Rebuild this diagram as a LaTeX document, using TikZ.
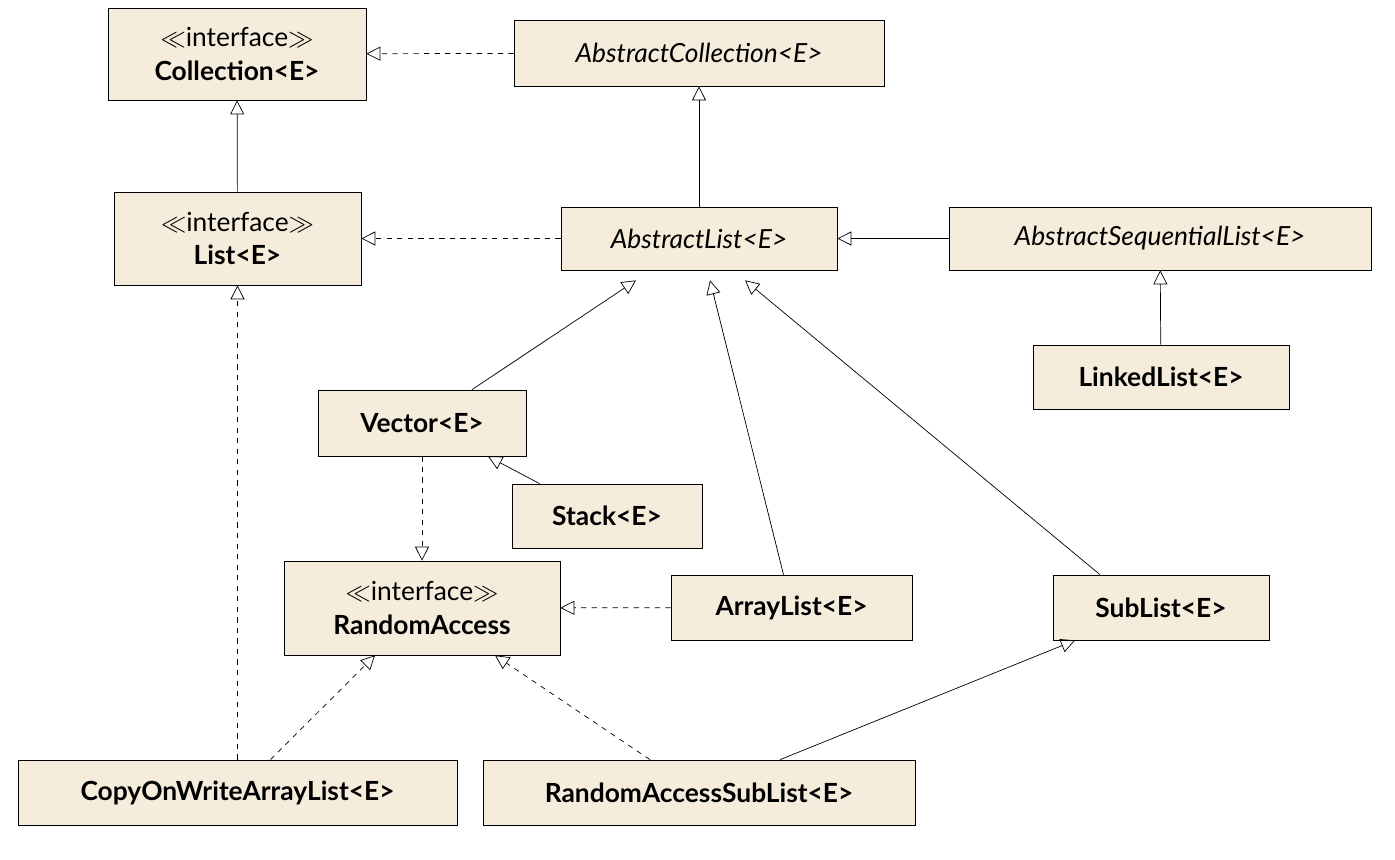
\documentclass[tikz,border=0pt]{standalone}
\usepackage{fontspec}
\setmainfont{Lato}
\usetikzlibrary{arrows.meta}
\definecolor{boxfill}{HTML}{F5ECDC}
\tikzset{
  cls/.style={draw, fill=boxfill, align=center, inner sep=2pt,
    font=\fontsize{15}{19}\selectfont},
  ext/.style={-{Triangle[open, length=8pt, width=8pt]}},
  impl/.style={ext, dashed}
}
\newcommand{\iface}{$\ll$interface$\gg$}
\begin{document}
\begin{tikzpicture}
\useasboundingbox (0,0) rectangle (27.9,-17.2);

\node[cls, minimum width=5.16cm, minimum height=1.84cm] (coll) at (4.74,-1.08) {\iface\\\textbf{Collection<E>}};
\node[cls, minimum width=7.4cm, minimum height=1.32cm] (acoll) at (13.98,-1.06) {\textit{AbstractCollection<E>}};
\node[cls, minimum width=4.94cm, minimum height=1.86cm] (list) at (4.75,-4.77) {\iface\\\textbf{List<E>}};
\node[cls, minimum width=5.52cm, minimum height=1.26cm] (alist) at (13.98,-4.77) {\textit{AbstractList<E>}};
\node[cls, minimum width=8.44cm, minimum height=1.26cm] (aslist) at (23.2,-4.77) {\textit{AbstractSequentialList<E>}};
\node[cls, minimum width=5.12cm, minimum height=1.28cm] (linked) at (23.22,-7.54) {\textbf{LinkedList<E>}};
\node[cls, minimum width=4.16cm, minimum height=1.32cm] (vector) at (8.44,-8.46) {\textbf{Vector<E>}};
\node[cls, minimum width=3.8cm, minimum height=1.28cm] (stack) at (12.14,-10.32) {\textbf{Stack<E>}};
\node[cls, minimum width=5.52cm, minimum height=1.88cm] (rand) at (8.44,-12.16) {\iface\\\textbf{RandomAccess}};
\node[cls, minimum width=4.82cm, minimum height=1.3cm] (array) at (15.83,-12.15) {\textbf{ArrayList<E>}};
\node[cls, minimum width=4.32cm, minimum height=1.3cm] (sub) at (23.22,-12.15) {\textbf{SubList<E>}};
\node[cls, minimum width=8.78cm, minimum height=1.3cm] (cow) at (4.75,-15.85) {\textbf{CopyOnWriteArrayList<E>}};
\node[cls, minimum width=8.64cm, minimum height=1.3cm] (rasub) at (13.98,-15.85) {\textbf{RandomAccessSubList<E>}};

% generalisation
\draw[ext] (list) -- (coll);
\draw[ext] (alist) -- (acoll);
\draw[ext] (aslist) -- (alist);
\draw[ext] (linked) -- (aslist);
\draw[ext] ([xshift=1cm]vector.north) -- ([xshift=-1.26cm, yshift=-0.2cm]alist.south);
\draw[ext] ([xshift=-0.16cm]array.north) -- ([xshift=0.22cm, yshift=-0.2cm]alist.south);
\draw[ext] ([xshift=-1.22cm]sub.north) -- ([xshift=0.92cm, yshift=-0.2cm]alist.south);
\draw[ext] ([xshift=0.56cm]stack.north west) -- ([xshift=1.32cm]vector.south);
\draw[ext] ([xshift=1.62cm]rasub.north) -- ([xshift=-1.72cm]sub.south);

% realisation
\draw[impl] (acoll) -- (coll);
\draw[impl] (alist) -- (list);
\draw[impl] (vector) -- (rand);
\draw[impl] (array) -- (rand);
\draw[impl] (cow) -- (list);
\draw[impl] ([xshift=0.66cm]cow.north) -- ([xshift=-0.94cm]rand.south);
\draw[impl] ([xshift=-0.98cm]rasub.north) -- ([xshift=1.46cm]rand.south);

\end{tikzpicture}
\end{document}
